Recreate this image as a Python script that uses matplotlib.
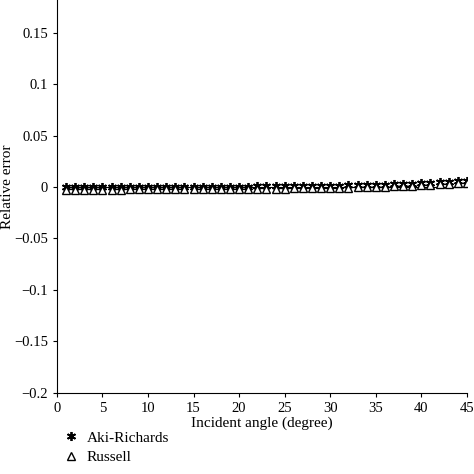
import matplotlib
matplotlib.use("Agg")
import matplotlib.pyplot as plt

angles = list(range(1, 46))
aki = [0.0000,0.0000,0.0000,0.0000,0.0000,0.0000,0.0000,0.0000,0.0000,0.0001,
       0.0001,0.0001,0.0001,0.0001,0.0002,0.0002,0.0002,0.0003,0.0003,0.0004,
       0.0004,0.0005,0.0005,0.0006,0.0007,0.0008,0.0009,0.0010,0.0011,0.0012,
       0.0014,0.0015,0.0017,0.0019,0.0021,0.0023,0.0026,0.0029,0.0032,0.0036,
       0.0040,0.0044,0.0049,0.0055,0.0061]
russell = [-0.0025,-0.0025,-0.0025,-0.0025,-0.0025,-0.0025,-0.0025,-0.0024,-0.0024,-0.0024,
           -0.0024,-0.0023,-0.0023,-0.0023,-0.0022,-0.0022,-0.0021,-0.0021,-0.0020,-0.0019,
           -0.0019,-0.0018,-0.0017,-0.0016,-0.0015,-0.0014,-0.0013,-0.0012,-0.0010,-0.0009,
           -0.0007,-0.0005,-0.0003,-0.0001,0.0001,0.0004,0.0007,0.0010,0.0013,0.0017,
           0.0021,0.0025,0.0030,0.0035,0.0041]

plt.rcParams['font.family'] = ['Liberation Serif', 'DejaVu Serif']
fig = plt.figure(figsize=(4.74, 4.74), dpi=100)
ax = fig.add_axes([0.120, 0.171, 0.865, 0.869])
ax.plot(angles, [0]*len(angles), color='black', lw=0.8)
l1, = ax.plot(angles, aki, linestyle='none', marker=(6, 2, 0), color='black', ms=6.5, mew=1.3)
l2, = ax.plot(angles, russell, linestyle='none', marker='^', mfc='white', mec='black', ms=6, mew=1.0)
ax.set_xlim(0, 45)
ax.set_ylim(-0.2, 0.2)
ax.set_xticks(range(0, 46, 5))
ax.set_yticks([-0.2, -0.15, -0.1, -0.05, 0, 0.05, 0.1, 0.15])
ax.set_yticklabels(['\u22120.2', '\u22120.15', '\u22120.1', '\u22120.05', '0', '0.05', '0.1', '0.15'])
for s in ['top', 'right']:
    ax.spines[s].set_visible(False)
ax.tick_params(labelsize=10.5, direction='out', length=3)
ax.set_xlabel('Incident angle (degree)', fontsize=11, labelpad=1)
ax.set_ylabel('Relative error', fontsize=11, labelpad=2)
ax.yaxis.set_label_coords(-0.105, 0.5)
fig.legend([l1, l2], ['Aki-Richards', 'Russell'], loc='upper left',
           bbox_to_anchor=(0.105, 0.12), frameon=False, fontsize=11,
           handlelength=1, handletextpad=0.5, labelspacing=0.4)
fig.savefig('out.png', dpi=100)
